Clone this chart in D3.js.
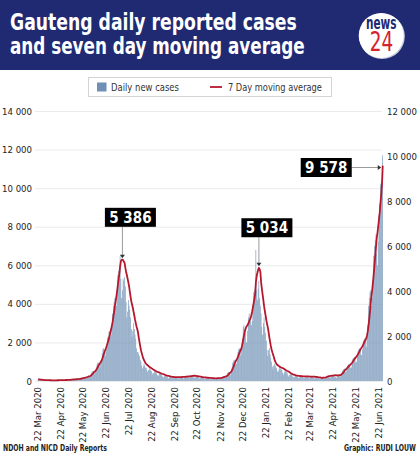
<!DOCTYPE html>
<html>
<head>
<meta charset="utf-8">
<script src="https://cdn.jsdelivr.net/npm/d3@7"></script>
<style>
  body { margin: 0; background: #fff; }
  svg { display: block; font-family: "DejaVu Sans Condensed", "Liberation Sans Narrow", sans-serif; }
</style>
</head>
<body>
<svg id="chart" width="420" height="455"></svg>
<script>
// Datos: casos diarios de Gauteng, una fila por semana (lunes a domingo), desde el lunes 23 Mar 2020
const firstDay = new Date(2020, 2, 23);
const dailyCases = [
  60, 80, 70, 50, 40, 50, 30,
  30, 40, 50, 45, 40, 35, 25,
  25, 30, 35, 40, 30, 25, 20,
  20, 30, 45, 40, 40, 35, 30,
  30, 40, 50, 45, 40, 45, 30,
  40, 45, 60, 55, 55, 50, 40,
  50, 60, 80, 85, 80, 75, 60,
  70, 80, 100, 105, 100, 95, 80,
  100, 120, 150, 160, 160, 150, 140,
  150, 180, 220, 240, 250, 230, 200,
  250, 330, 450, 500, 520, 500, 390,
  500, 650, 850, 950, 950, 900, 700,
  900, 1050, 1450, 1650, 1700, 1600, 1300,
  1500, 1750, 2250, 2300, 2550, 2600, 2300,
  2400, 2900, 3500, 3900, 4100, 4300, 3800,
  3900, 4600, 5500, 5700, 5800, 6480, 5300,
  4300, 4700, 5300, 5200, 5400, 4900, 4100,
  3300, 3600, 4200, 3900, 3700, 3300, 2700,
  2300, 2600, 3000, 2700, 2400, 2200, 1700,
  1500, 1500, 1400, 1300, 1100, 1000, 800,
  650, 760, 900, 800, 700, 680, 550,
  480, 560, 650, 620, 560, 520, 400,
  330, 420, 500, 470, 440, 400, 300,
  260, 320, 380, 360, 330, 300, 230,
  190, 240, 280, 270, 250, 220, 170,
  140, 180, 220, 210, 190, 170, 140,
  130, 170, 210, 200, 185, 170, 125,
  140, 180, 220, 215, 200, 180, 130,
  150, 200, 250, 240, 220, 205, 145,
  180, 230, 290, 280, 260, 240, 170,
  160, 200, 250, 240, 220, 200, 140,
  120, 160, 200, 195, 180, 160, 110,
  100, 140, 175, 170, 160, 140, 95,
  90, 120, 150, 145, 135, 120, 80,
  90, 125, 160, 160, 150, 140, 90,
  120, 160, 220, 230, 230, 220, 150,
  220, 300, 420, 460, 480, 460, 330,
  500, 700, 950, 1050, 1100, 1050, 850,
  900, 1150, 1500, 1650, 1700, 1600, 1300,
  1700, 2200, 2800, 2900, 2700, 2500, 2000,
  2000, 2600, 3300, 3500, 3200, 3100, 2900,
  3100, 3900, 4600, 4700, 4800, 6800, 4700,
  4200, 4800, 5200, 4300, 3900, 3500, 2800,
  2400, 3000, 3300, 2800, 2500, 2100, 1600,
  1300, 1600, 1700, 1400, 1200, 1000, 750,
  600, 800, 900, 800, 700, 650, 500,
  480, 600, 720, 650, 600, 560, 420,
  340, 440, 540, 500, 460, 430, 310,
  230, 300, 360, 340, 310, 280, 200,
  180, 230, 280, 270, 250, 230, 160,
  160, 210, 260, 250, 230, 210, 150,
  150, 200, 250, 240, 220, 200, 140,
  140, 190, 240, 230, 210, 190, 130,
  130, 180, 220, 190, 140, 150, 140,
  90, 130, 170, 180, 170, 160, 120,
  150, 210, 260, 260, 250, 240, 170,
  180, 240, 300, 300, 290, 270, 200,
  200, 160, 320, 320, 310, 290, 220,
  280, 380, 520, 580, 620, 650, 470,
  480, 620, 800, 850, 880, 860, 690,
  700, 900, 1150, 1200, 1250, 1200, 950,
  1000, 1250, 1550, 1650, 1700, 1650, 1350,
  1350, 1650, 2050, 2150, 2200, 2150, 1750,
  2300, 2900, 3900, 4300, 4600, 4700, 3900,
  4300, 5200, 6500, 7000, 7300, 7600, 6600,
  6000, 7200, 8600, 9200, 10200, 10300, 9800,
  11700
];

const leftTicks = [0, 2000, 4000, 6000, 8000, 10000, 12000, 14000];
const rightTicks = [0, 2000, 4000, 6000, 8000, 10000, 12000];
const tickDates = [
  "2020-03-22", "2020-04-22", "2020-05-22", "2020-06-22", "2020-07-22", "2020-08-22",
  "2020-09-22", "2020-10-22", "2020-11-22", "2020-12-22", "2021-01-22", "2021-02-22",
  "2021-03-22", "2021-04-22", "2021-05-22", "2021-06-22"
];
const peakDates = ["2020-07-14", "2021-01-13", "2021-06-28"];
const peakValues = [5386, 5034, 9578];
const peakLabels = ["5 386", "5 034", "9 578"];

const legendLabels = ["Daily new cases", "7 Day moving average"];
const titleLines = ["Gauteng daily reported cases", "and seven day moving average"];
const sourceText = "NDOH and NICD Daily Reports";
const creditText = "Graphic: RUDI LOUW";

// Utilidades
const parseDay = d3.timeParse("%Y-%m-%d");
const fmtTick = d3.timeFormat("%d %b %Y");
const fmtNum = v => d3.format(",")(v).replace(/,/g, " ");

// Texto estrechado con escala horizontal para ocupar "w" píxeles
function squeezeText(sel, x, y, w) {
  const len = sel.node().getComputedTextLength();
  sel.attr("transform", `translate(${x},${y}) scale(${w / len},1)`);
  return sel;
}

const series = dailyCases.map((v, i) => {
  const win = dailyCases.slice(Math.max(0, i - 6), i + 1);
  return { date: d3.timeDay.offset(firstDay, i), cases: v, avg: d3.mean(win) };
});

const svg = d3.select("#chart");

// Cabecera
svg.append("rect").attr("x", 0).attr("y", 0).attr("width", 420).attr("height", 70)
  .attr("fill", "#202a73");

titleLines.forEach((t, i) => {
  const tx = svg.append("text")
    .style("font-family", "'DejaVu Sans Condensed', sans-serif")
    .style("font-weight", "bold")
    .style("font-size", "23px")
    .style("fill", "#fff")
    .text(t);
  squeezeText(tx, 10, 29.5 + i * 24.5, i === 0 ? 287 : 295);
});

// Logo news24
const logo = svg.append("g");
logo.append("circle").attr("cx", 382).attr("cy", 36.3).attr("r", 22.8).attr("fill", "#c9ccd8");
logo.append("circle").attr("cx", 381.2).attr("cy", 35.5).attr("r", 22.5).attr("fill", "#fff");
squeezeText(logo.append("text")
  .style("font-family", "'DejaVu Sans Condensed', sans-serif")
  .style("font-weight", "bold").style("font-size", "18px").style("fill", "#202a73")
  .text("news"), 366, 28.5, 30.5);
squeezeText(logo.append("text")
  .style("font-family", "'DejaVu Sans', sans-serif")
  .style("font-size", "27px").style("fill", "#d2232e")
  .text("24"), 369.8, 50.5, 23.5);

// Leyenda
const legend = svg.append("g");
legend.append("rect").attr("x", 88.5).attr("y", 77.5).attr("width", 243).attr("height", 19)
  .attr("fill", "#fff").attr("stroke", "#d4d4d4");
legend.append("rect").attr("x", 97).attr("y", 82.5).attr("width", 9.5).attr("height", 9)
  .attr("fill", "#6f8fb4");
legend.append("line").attr("x1", 210).attr("x2", 222).attr("y1", 87).attr("y2", 87)
  .attr("stroke", "#b5182d").attr("stroke-width", 1.8);
legendLabels.forEach((t, i) => {
  const tx = legend.append("text")
    .style("font-size", "11px")
    .style("fill", "#333")
    .text(t);
  squeezeText(tx, i === 0 ? 111 : 228, 91, i === 0 ? 68 : 94);
});

// Escalas
const plotTop = 111, plotBottom = 381;
const x = d3.scaleTime()
  .domain([new Date(2020, 2, 22), new Date(2021, 5, 29)])
  .range([37, 383.1]);
const yL = d3.scaleLinear().domain([0, 14000]).range([plotBottom, plotTop]);
const yR = d3.scaleLinear().domain([0, 12000]).range([plotBottom, plotTop]);
const step = x(d3.timeDay.offset(firstDay, 1)) - x(firstDay);

// Rejilla y ejes
const grid = svg.append("g")
  .attr("transform", "translate(35,0)")
  .call(d3.axisLeft(yL).tickValues(leftTicks).tickSize(-347).tickFormat(""));
grid.select(".domain").remove();
grid.selectAll("line").attr("stroke", "#e4e4e4").attr("stroke-width", 0.8);

const axL = svg.append("g")
  .attr("transform", "translate(32,0)")
  .call(d3.axisLeft(yL).tickValues(leftTicks).tickSize(0).tickPadding(0).tickFormat(fmtNum));
axL.select(".domain").remove();
axL.selectAll("text")
  .style("font-family", "'DejaVu Sans Condensed', sans-serif")
  .style("font-size", "9.5px").style("fill", "#222");

const axR = svg.append("g")
  .attr("transform", "translate(387,0)")
  .call(d3.axisRight(yR).tickValues(rightTicks).tickSize(0).tickPadding(0).tickFormat(fmtNum));
axR.select(".domain").remove();
axR.selectAll("text")
  .style("font-family", "'DejaVu Sans Condensed', sans-serif")
  .style("font-size", "9.5px").style("fill", "#222");

// Barras diarias (eje izquierdo)
svg.append("g")
  .selectAll("rect")
  .data(series)
  .enter().append("rect")
    .attr("x", d => x(d.date))
    .attr("width", step * 0.82)
    .attr("y", d => yL(d.cases))
    .attr("height", d => plotBottom - yL(d.cases))
    .attr("fill", "#7192b6");

// Media móvil de 7 días (eje derecho)
const line = d3.line()
  .x(d => x(d.date) + step / 2)
  .y(d => yR(d.avg));
svg.append("path")
  .datum(series)
  .attr("d", line)
  .attr("fill", "none")
  .attr("stroke", "#b5182d")
  .attr("stroke-width", 1.8)
  .attr("stroke-linejoin", "round");

// Eje X con fechas rotadas
const axX = svg.append("g")
  .attr("transform", `translate(0,${plotBottom})`)
  .call(d3.axisBottom(x).tickValues(tickDates.map(parseDay)).tickSize(0).tickFormat(fmtTick));
axX.select(".domain").remove();
axX.selectAll("text")
  .attr("transform", "rotate(-90)")
  .attr("x", -6)
  .attr("y", 0)
  .attr("dy", "0.35em")
  .attr("text-anchor", "end")
  .style("font-family", "'DejaVu Sans Condensed', sans-serif")
  .style("font-size", "9.5px")
  .style("fill", "#222");

// Anotaciones de picos
const notes = peakDates.map((d, i) => ({
  px: x(parseDay(d)) + step / 2,
  py: yR(peakValues[i]),
  label: peakLabels[i]
}));
const boxW = 51, boxH = 19;
const ann = svg.append("g");
notes.forEach((n, i) => {
  let bx, by;
  if (i < 2) {
    bx = n.px + 8 - boxW / 2;
    by = n.py - (i === 0 ? 52 : 49.5);
    ann.append("line")
      .attr("x1", n.px).attr("x2", n.px)
      .attr("y1", by + boxH).attr("y2", n.py - 4)
      .attr("stroke", "#9a9a9a").attr("stroke-width", 1);
    ann.append("path")
      .attr("d", `M${n.px - 2.5},${n.py - 5} L${n.px + 2.5},${n.py - 5} L${n.px},${n.py - 1.5} Z`)
      .attr("fill", "#333");
  } else {
    bx = n.px - 82;
    by = n.py - 7.5;
    const ay = by + boxH / 2;
    ann.append("line")
      .attr("x1", bx + boxW).attr("x2", n.px - 3)
      .attr("y1", ay).attr("y2", ay)
      .attr("stroke", "#9a9a9a").attr("stroke-width", 1);
    ann.append("path")
      .attr("d", `M${n.px - 5},${ay - 2.5} L${n.px - 5},${ay + 2.5} L${n.px - 1.5},${ay} Z`)
      .attr("fill", "#333");
  }
  ann.append("rect")
    .attr("x", bx).attr("y", by).attr("width", boxW).attr("height", boxH)
    .attr("fill", "#000");
  ann.append("text")
    .attr("x", bx + boxW / 2).attr("y", by + boxH / 2)
    .attr("dy", "0.36em")
    .attr("text-anchor", "middle")
    .style("font-family", "'DejaVu Sans Condensed', sans-serif")
    .style("font-weight", "bold")
    .style("font-size", "15px")
    .style("fill", "#fff")
    .text(n.label);
});

// Pie
squeezeText(svg.append("text")
  .style("font-size", "9.5px").style("font-weight", "bold").style("fill", "#222")
  .text(sourceText), 3, 450.5, 104);
squeezeText(svg.append("text")
  .style("font-size", "9.5px").style("font-weight", "bold").style("fill", "#222")
  .text(creditText), 344, 450.5, 72);
</script>
</body>
</html>
